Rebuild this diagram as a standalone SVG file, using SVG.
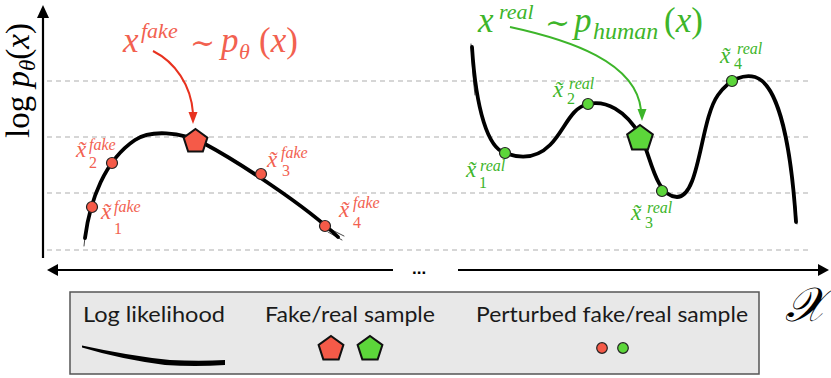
<svg xmlns="http://www.w3.org/2000/svg" xmlns:xlink="http://www.w3.org/1999/xlink" width="831" height="378" viewBox="0 0 831 378">
<style>
.grid{stroke:#c9c9c9;stroke-width:1.5;stroke-dasharray:5 4;fill:none}
.axis{stroke:#000;stroke-width:2.2;fill:none}
.brush{fill:none;stroke:#000;stroke-width:3.8;stroke-linecap:round;stroke-linejoin:round}
.scratch{fill:none;stroke:#000;stroke-width:0.9;stroke-linecap:round;opacity:0.8}
.m{font-family:"Liberation Serif","Times New Roman",serif;font-style:italic}
.up{font-style:normal}
.sim{font-family:"DejaVu Serif",serif;font-style:normal}
.red{fill:#f26150}
.green{fill:#3db52a}
.pr{fill:#f55a48;stroke:#111;stroke-width:2;stroke-linejoin:miter}
.pg{fill:#5cd63a;stroke:#111;stroke-width:2;stroke-linejoin:miter}
.dr{fill:#f55a48;stroke:#222;stroke-width:1.2}
.dg{fill:#5cd63a;stroke:#222;stroke-width:1.2}
.leg{font-family:Lato,"Open Sans",sans-serif;font-size:21px;fill:#1a1a1a}
.lbl{font-size:23px}
.sc{font-size:16px}
</style>
<defs>
<polygon id="pent" points="0,-1 0.951,-0.309 0.588,0.809 -0.588,0.809 -0.951,-0.309"/>
</defs>

<g id="gridlines">
<line class="grid" x1="47" y1="81" x2="808" y2="81"/>
<line class="grid" x1="47" y1="137" x2="808" y2="137"/>
<line class="grid" x1="47" y1="193" x2="808" y2="193"/>
<line class="grid" x1="47" y1="250" x2="808" y2="250"/>
</g>

<g id="axes">
<line class="axis" x1="43" y1="16" x2="43" y2="258"/>
<polygon points="43,5 37,18 49,18" fill="#000"/>
<line class="axis" x1="57" y1="270" x2="393" y2="270"/>
<polygon points="47,270 58,264 58,276" fill="#000"/>
<line class="axis" x1="458" y1="270" x2="819" y2="270"/>
<polygon points="829,270 818,264 818,276" fill="#000"/>
<text x="412" y="274" font-family="Liberation Sans,Arial,sans-serif" font-weight="bold" font-size="17" fill="#000">...</text>
<text transform="translate(29,138) rotate(-90)" font-family="Liberation Serif,serif" font-size="33" fill="#000">log <tspan font-style="italic">p</tspan><tspan font-style="italic" font-size="23" dy="6">θ</tspan><tspan dy="-6">(</tspan><tspan font-style="italic">x</tspan>)</text>
<text x="785" y="321" font-family="DejaVu Serif,serif" font-style="italic" font-size="48" fill="#000">𝒳</text>
</g>

<g id="curve-fake">
<path class="brush" d="M85,238 C90,200 105,160 135,140 C150,130 180,131 205,144 C235,160 305,205 338,237"/>
<path class="scratch" d="M84,246 C86,225 90,210 95,196"/>
<path class="scratch" d="M328,232 L342,240"/>
<path class="scratch" d="M330,229 L344,236"/>
<path class="scratch" d="M215,149 C245,166 290,195 330,228"/>
</g>

<g id="curve-real">
<path class="brush" d="M472,47 C476,110 488,148 505,153 C518,158 535,160 550,145 C565,130 570,108 588,104 C606,100 625,110 640,135 C650,152 655,197 677,197 C700,197 700,120 718,95 C730,78 745,74 755,77 C775,83 790,130 796,222"/>
<path class="scratch" d="M471,44 C472,60 473,80 475,95"/>
<path class="scratch" d="M795,200 C796,210 797,218 797,224"/>
<path class="scratch" d="M600,103 C615,105 628,115 638,132"/>
</g>

<g id="connectors">
<path d="M153,51 C175,62 191,85 193,113" fill="none" stroke="#e8321f" stroke-width="2"/>
<polygon points="193,124 188.5,112 197.5,112" fill="#e8321f"/>
<path d="M510,27 C570,40 636,62 641,110" fill="none" stroke="#3db52a" stroke-width="2"/>
<polygon points="642,121 637.5,109 646.5,109" fill="#3db52a"/>
</g>

<g id="sample-fake">
<use xlink:href="#pent" class="pr" transform="translate(195.5,141.5) scale(12.5)" style="stroke-width:0.16"/>
</g>
<g id="sample-real">
<use xlink:href="#pent" class="pg" transform="translate(640,138.5) scale(13.5)" style="stroke-width:0.15"/>
</g>

<g id="perturbed-fake">
<circle class="dr" cx="92" cy="207" r="5.5"/>
<circle class="dr" cx="112" cy="163" r="5.5"/>
<circle class="dr" cx="261" cy="174" r="5.5"/>
<circle class="dr" cx="325" cy="226" r="5.5"/>
</g>
<g id="perturbed-real">
<circle class="dg" cx="505" cy="153" r="5.5"/>
<circle class="dg" cx="588" cy="104" r="5.5"/>
<circle class="dg" cx="662" cy="191" r="5.5"/>
<circle class="dg" cx="732" cy="81" r="5.5"/>
</g>

<g id="titles">
<text class="m red" font-size="35"><tspan x="123" y="52">x</tspan><tspan x="141" y="38" font-size="22">fake</tspan><tspan x="190" y="53" class="sim" font-size="30">∼</tspan><tspan x="221" y="52">p</tspan><tspan x="239" y="59" font-size="22">θ</tspan><tspan x="259" y="52" class="up">(</tspan><tspan>x</tspan><tspan class="up">)</tspan></text>
<text class="m green" font-size="35"><tspan x="478" y="32">x</tspan><tspan x="499" y="19" font-size="22">real</tspan><tspan x="545" y="33" class="sim" font-size="30">∼</tspan><tspan x="574" y="32">p</tspan><tspan x="593" y="39" font-size="24">human</tspan><tspan x="664" y="32" class="up">(</tspan><tspan>x</tspan><tspan class="up">)</tspan></text>
</g>

<g id="labels-fake" class="m red">
<text><tspan class="lbl" x="101" y="219">x&#x303;</tspan><tspan class="sc" x="114" y="212">fake</tspan><tspan class="sc up" x="114" y="234">1</tspan></text>
<text><tspan class="lbl" x="76" y="157">x&#x303;</tspan><tspan class="sc" x="89" y="150">fake</tspan><tspan class="sc up" x="89" y="168">2</tspan></text>
<text><tspan class="lbl" x="267" y="167">x&#x303;</tspan><tspan class="sc" x="281" y="158">fake</tspan><tspan class="sc up" x="282" y="176">3</tspan></text>
<text><tspan class="lbl" x="339" y="217">x&#x303;</tspan><tspan class="sc" x="353" y="208">fake</tspan><tspan class="sc up" x="353" y="228">4</tspan></text>
</g>
<g id="labels-real" class="m green">
<text><tspan class="lbl" x="466" y="177">x&#x303;</tspan><tspan class="sc" x="480" y="171">real</tspan><tspan class="sc up" x="479" y="188">1</tspan></text>
<text><tspan class="lbl" x="553" y="97">x&#x303;</tspan><tspan class="sc" x="569" y="89">real</tspan><tspan class="sc up" x="567" y="104">2</tspan></text>
<text><tspan class="lbl" x="631" y="220">x&#x303;</tspan><tspan class="sc" x="647" y="213">real</tspan><tspan class="sc up" x="645" y="228">3</tspan></text>
<text><tspan class="lbl" x="720" y="63">x&#x303;</tspan><tspan class="sc" x="737" y="54">real</tspan><tspan class="sc up" x="734" y="69">4</tspan></text>
</g>

<g id="legend">
<rect x="70" y="292" width="689" height="82" fill="#e8e8e8" stroke="#555" stroke-width="1.5"/>
<text class="leg" x="154" y="322" text-anchor="middle" textLength="142" lengthAdjust="spacingAndGlyphs">Log likelihood</text>
<text class="leg" x="350" y="322" text-anchor="middle" textLength="170" lengthAdjust="spacingAndGlyphs">Fake/real sample</text>
<text class="leg" x="612" y="322" text-anchor="middle" textLength="272" lengthAdjust="spacingAndGlyphs">Perturbed fake/real sample</text>
<path d="M82,345.5 Q130,356 170,360 Q200,361.5 225,360 L225,365 Q195,367 165,365 Q120,359 82,347.5 Z" fill="#000"/>
<use xlink:href="#pent" class="pr" transform="translate(331,349) scale(13)" style="stroke-width:0.16"/>
<use xlink:href="#pent" class="pg" transform="translate(370,349) scale(13)" style="stroke-width:0.16"/>
<circle class="dr" cx="602" cy="348" r="5.3"/>
<circle class="dg" cx="623" cy="348" r="5.3"/>
</g>
</svg>
